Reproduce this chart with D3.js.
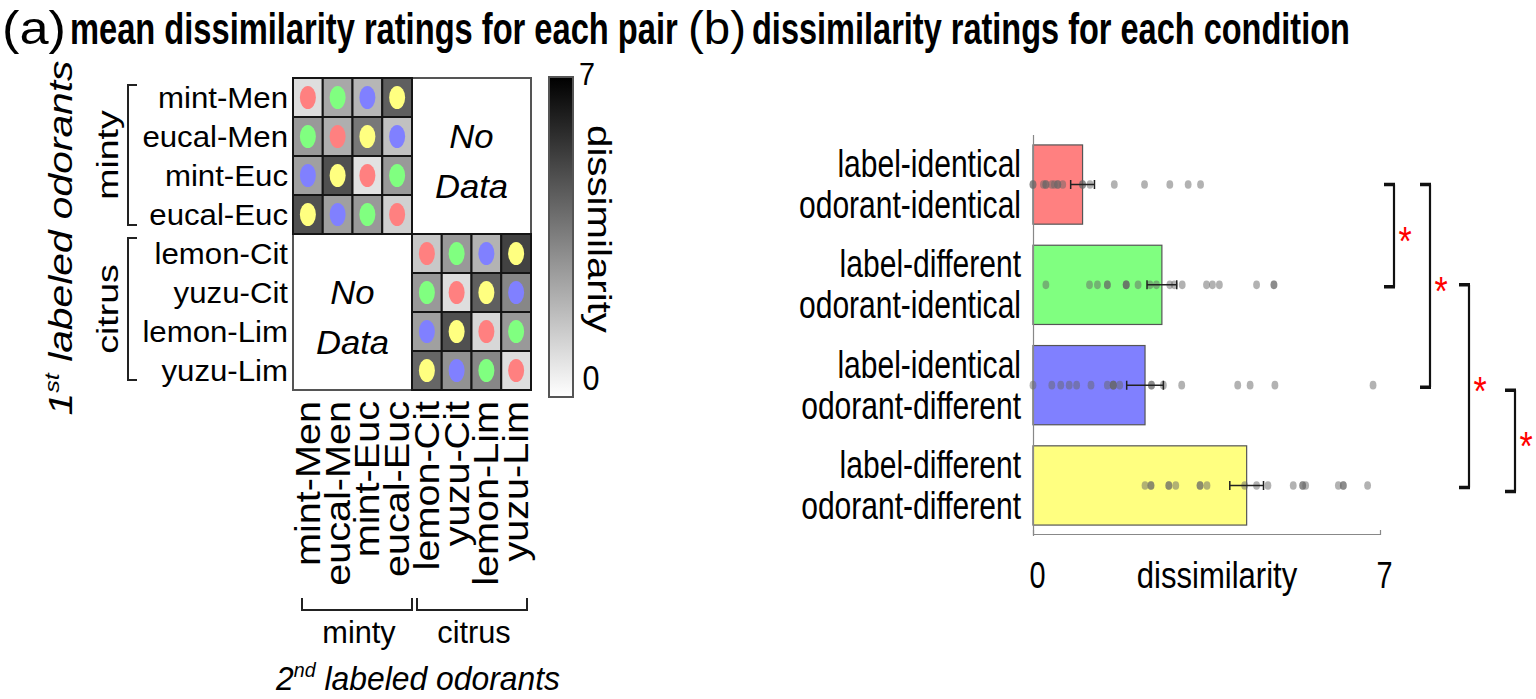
<!DOCTYPE html>
<html>
<head>
<meta charset="utf-8">
<script src="https://cdn.jsdelivr.net/npm/d3@7"></script>
<style>
  body { margin: 0; background: #fff; }
  text { font-family: "Liberation Sans", Arial, sans-serif; }
</style>
</head>
<body>
<svg id="fig"></svg>
<script>
// ---- data ----
var pairLabels = ["mint-Men", "eucal-Men", "mint-Euc", "eucal-Euc", "lemon-Cit", "yuzu-Cit", "lemon-Lim", "yuzu-Lim"];
var groupLabels = ["minty", "citrus"];

// mean dissimilarity (0-7) for each within-group cell
var mintyMatrix = [
  [0.9, 2.4, 2.0, 4.4],
  [2.8, 2.2, 3.7, 1.7],
  [2.6, 4.8, 0.8, 2.8],
  [4.8, 2.6, 2.8, 1.3]
];
var citrusMatrix = [
  [1.5, 2.8, 2.1, 5.2],
  [2.8, 0.9, 4.4, 3.3],
  [2.6, 4.8, 1.1, 2.8],
  [4.2, 3.0, 3.3, 0.9]
];
// condition index of the dot in each cell (same layout in both groups)
var cellCondition = [
  [0, 1, 2, 3],
  [1, 0, 3, 2],
  [2, 3, 0, 1],
  [3, 2, 1, 0]
];

var conditions = [
  ["label-identical", "odorant-identical"],
  ["label-different", "odorant-identical"],
  ["label-identical", "odorant-different"],
  ["label-different", "odorant-different"]
];
var condColors = ["#ff8080", "#80ff80", "#8080ff", "#ffff80"];
var meanRatings = [1.0, 2.6, 2.26, 4.31];
var seRatings = [0.24, 0.3, 0.37, 0.34];

var dotsIdentIdent = [0, 0, 0.21, 0.26, 0.26, 0.38, 0.43, 0.5, 0.5, 0.6, 1.0, 1.0, 1.15, 1.64, 2.25, 2.76, 3.13, 3.38];
var dotsDiffIdent = [0.26, 1.14, 1.3, 1.5, 1.5, 1.88, 1.88, 1.88, 2.12, 2.36, 2.49, 2.76, 2.85, 3.01, 3.5, 3.62, 3.76, 4.51, 4.86, 4.86];
var dotsIdentDiff = [0, 0.38, 0.56, 0.73, 0.88, 1.17, 1.5, 1.62, 1.62, 1.62, 1.75, 2.39, 2.39, 2.63, 3.0, 4.13, 4.38, 4.88, 6.86];
var dotsDiffDiff = [2.26, 2.38, 2.38, 2.74, 2.74, 2.88, 3.37, 3.37, 3.51, 4.27, 4.51, 4.74, 5.25, 5.44, 5.44, 5.5, 6.16, 6.26, 6.26, 6.75];
var significantPairs = [[0, 1], [0, 2], [1, 3], [2, 3]];
var scaleTicks = [0, 7];

// ---- setup ----
var svg = d3.select("#fig").attr("width", 1536).attr("height", 699);

// text helper: scale(sx,1) stretches along the writing direction
function txt(parent, str, x, y, o) {
  o = o || {};
  var rot = o.rot || 0;
  var t = parent.append("text")
    .attr("font-size", o.size || 30)
    .attr("text-anchor", o.anchor || "start")
    .attr("font-weight", o.weight || "normal")
    .attr("font-style", o.style || "normal")
    .attr("fill", o.fill || "#000")
    .text(str);
  var sx = o.sx || 1;
  if (o.width) sx = o.width / t.node().getComputedTextLength();
  t.attr("transform", "translate(" + x + "," + y + ") rotate(" + rot + ") scale(" + sx + ",1)");
  return t;
}

// ---- panel (a) ----
var gA = svg.append("g");
txt(gA, "(a)", 2, 44, {size: 46, width: 64});
txt(gA, "mean dissimilarity ratings for each pair", 70, 44, {size: 45, weight: "bold", width: 608});

var xCol = d3.scaleBand().domain(pairLabels).range([293, 531]);
var yRow = d3.scaleBand().domain(pairLabels).range([78, 390]);
var grey = d3.scaleLinear().domain([0, 7]).range(["#ffffff", "#000000"]);

// frame (white "No Data" areas)
gA.append("rect")
  .attr("x", xCol.range()[0]).attr("y", yRow.range()[0])
  .attr("width", xCol.range()[1] - xCol.range()[0])
  .attr("height", yRow.range()[1] - yRow.range()[0])
  .attr("fill", "#fff").attr("stroke", "#555").attr("stroke-width", 2);

var cells = [];
[mintyMatrix, citrusMatrix].forEach(function(m, gi) {
  m.forEach(function(row, r) {
    row.forEach(function(v, c) {
      cells.push({row: pairLabels[gi * 4 + r], col: pairLabels[gi * 4 + c], v: v, cond: cellCondition[r][c]});
    });
  });
});

gA.selectAll(".cell").data(cells).enter().append("rect")
  .attr("class", "cell")
  .attr("x", function(d) { return xCol(d.col); })
  .attr("y", function(d) { return yRow(d.row); })
  .attr("width", xCol.bandwidth())
  .attr("height", yRow.bandwidth())
  .attr("fill", function(d) { return grey(d.v); })
  .attr("stroke", "#151515").attr("stroke-width", 2);

gA.selectAll(".cdot").data(cells).enter().append("ellipse")
  .attr("class", "cdot")
  .attr("cx", function(d) { return xCol(d.col) + xCol.bandwidth() / 2; })
  .attr("cy", function(d) { return yRow(d.row) + yRow.bandwidth() / 2; })
  .attr("rx", 8).attr("ry", 11.5)
  .attr("fill", function(d) { return condColors[d.cond]; });

// No Data text
[[pairLabels[4], pairLabels[0]], [pairLabels[0], pairLabels[4]]].forEach(function(p) {
  var cx = xCol(p[0]) + xCol.bandwidth() * 2;
  var cy = yRow(p[1]) + yRow.bandwidth() * 2;
  txt(gA, "No", cx, cy - 8, {size: 33, style: "italic", anchor: "middle", sx: 1.05});
  txt(gA, "Data", cx, cy + 42, {size: 33, style: "italic", anchor: "middle", sx: 1.05});
});

// row labels
pairLabels.forEach(function(l) {
  txt(gA, l, 288, yRow(l) + yRow.bandwidth() / 2 + 10.5, {size: 30, anchor: "end", sx: 1.04});
});
// column labels
pairLabels.forEach(function(l) {
  txt(gA, l, xCol(l) + xCol.bandwidth() / 2 + 12, 401, {size: 36, anchor: "end", rot: -90, sx: 1.1});
});

// left group brackets + labels
groupLabels.forEach(function(g, gi) {
  var y0 = yRow(pairLabels[gi * 4]) + (gi ? 4 : 7);
  var y1 = yRow(pairLabels[gi * 4 + 3]) + yRow.bandwidth() - (gi ? 10 : 9);
  gA.append("path").attr("d", "M137," + y0 + "H128V" + y1 + "H137")
    .attr("fill", "none").attr("stroke", "#222").attr("stroke-width", 2);
  txt(gA, g, 118, (y0 + y1) / 2, {size: 30, anchor: "middle", rot: -90, sx: 1.25});

  var x0 = xCol(pairLabels[gi * 4]) + (gi ? 5 : 9);
  var x1 = xCol(pairLabels[gi * 4 + 3]) + xCol.bandwidth() - (gi ? 4 : 0);
  gA.append("path").attr("d", "M" + x0 + ",598V610H" + x1 + "V598")
    .attr("fill", "none").attr("stroke", "#222").attr("stroke-width", 2);
  txt(gA, g, (x0 + x1) / 2 + 2, 643, {size: 32, anchor: "middle", sx: 0.96});
});

// axis titles with superscripts
function supTitle(parent, num, sup, rest, x, y, rot, width) {
  var t = parent.append("text").attr("font-size", 34).attr("font-style", "italic")
    .attr("text-anchor", "middle");
  t.append("tspan").text(num);
  t.append("tspan").attr("font-size", 21).attr("dy", -13).text(sup);
  t.append("tspan").attr("dy", 13).text(" " + rest);
  var sx = width / t.node().getComputedTextLength();
  t.attr("transform", "translate(" + x + "," + y + ") rotate(" + rot + ") scale(" + sx + ",1)");
}
supTitle(gA, "1", "st", "labeled odorants", 72, 238, -90, 355);
supTitle(gA, "2", "nd", "labeled odorants", 418, 690, 0, 284);

// colour bar
var defs = svg.append("defs");
var grad = defs.append("linearGradient").attr("id", "cbar")
  .attr("x1", 0).attr("y1", 1).attr("x2", 0).attr("y2", 0);
d3.range(0, 7.01, 1).forEach(function(v) {
  grad.append("stop").attr("offset", v / 7).attr("stop-color", grey(v));
});
var cbY = d3.scaleLinear().domain(scaleTicks).range([397, 77]);
gA.append("rect").attr("x", 549).attr("y", cbY(7)).attr("width", 24)
  .attr("height", cbY(0) - cbY(7))
  .attr("fill", "url(#cbar)").attr("stroke", "#555").attr("stroke-width", 2);
txt(gA, "7", 587, cbY(7) + 8, {size: 32, anchor: "middle", sx: 0.9});
txt(gA, "0", 591, cbY(0) - 7, {size: 36, anchor: "middle", sx: 0.85});
txt(gA, "dissimilarity", 588, 229, {size: 33, anchor: "middle", rot: 90, sx: 1.22});

// ---- panel (b) ----
var gB = svg.append("g");
txt(gB, "(b)", 688, 44, {size: 46, width: 58});
txt(gB, "dissimilarity ratings for each condition", 752, 44, {size: 45, weight: "bold", width: 598});

var condIdx = d3.range(conditions.length);
var x = d3.scaleLinear().domain([0, 7]).range([1033, 1380]);
var y = d3.scaleBand().domain(condIdx).range([134.4, 535.6]).paddingInner(0.21).paddingOuter(0.105);
var dotSets = [dotsIdentIdent, dotsDiffIdent, dotsIdentDiff, dotsDiffDiff];

gB.selectAll(".bar").data(condIdx).enter().append("rect")
  .attr("class", "bar")
  .attr("x", x(0))
  .attr("y", function(i) { return y(i); })
  .attr("width", function(i) { return x(meanRatings[i]) - x(0); })
  .attr("height", y.bandwidth())
  .attr("fill", function(i) { return condColors[i]; })
  .attr("stroke", "#555").attr("stroke-width", 1.2);

// axes
gB.append("g").attr("transform", "translate(" + x(0) + ",0)")
  .call(d3.axisLeft(y).tickSize(0).tickSizeOuter(0).tickFormat(""))
  .call(function(g) { g.select(".domain").attr("stroke", "#888").attr("stroke-width", 1.2); });

gB.append("g").attr("transform", "translate(0,534)")
  .call(d3.axisBottom(x).tickValues(scaleTicks).tickFormat(d3.format("d"))
    .tickSize(0).tickSizeOuter(-4).tickPadding(28))
  .call(function(g) {
    g.select(".domain").attr("stroke", "#888").attr("stroke-width", 1.2);
    g.selectAll(".tick text").attr("font-size", 37).attr("font-family", "Liberation Sans, Arial, sans-serif")
      .attr("fill", "#000").attr("transform", "translate(4,0) scale(0.78,1)");
  });
txt(gB, "dissimilarity", 1217, 588, {size: 37, anchor: "middle", sx: 0.84});

// category labels
conditions.forEach(function(c, i) {
  var cy = y(i) + y.bandwidth() / 2;
  txt(gB, c[0], 1021, cy - 7.5, {size: 39, anchor: "end", sx: 0.77});
  txt(gB, c[1], 1021, cy + 33.5, {size: 39, anchor: "end", sx: 0.77});
});

// individual ratings
dotSets.forEach(function(set, i) {
  var cy = y(i) + y.bandwidth() / 2;
  gB.selectAll(".pt" + i).data(set).enter().append("ellipse")
    .attr("class", "pt" + i)
    .attr("cx", function(d) { return x(d); })
    .attr("cy", cy)
    .attr("rx", 3.4).attr("ry", 4.3)
    .attr("fill", "#666").attr("fill-opacity", 0.5);
});

// error bars
condIdx.forEach(function(i) {
  var cy = y(i) + y.bandwidth() / 2;
  var lo = x(meanRatings[i] - seRatings[i]), hi = x(meanRatings[i] + seRatings[i]);
  gB.append("path")
    .attr("d", "M" + lo + "," + cy + "H" + hi + "M" + lo + "," + (cy - 4.5) + "V" + (cy + 4.5) +
      "M" + hi + "," + (cy - 4.5) + "V" + (cy + 4.5))
    .attr("fill", "none").attr("stroke", "#222").attr("stroke-width", 1.5);
});

// significance brackets
var bracketOffsets = [14, 50, 89, 135];
significantPairs.forEach(function(p, k) {
  var bx = x.range()[1] + bracketOffsets[k];
  var y0 = y(p[0]) + y.bandwidth() / 2 + (k === 3 ? 5 : 0);
  var y1 = y(p[1]) + y.bandwidth() / 2 + (k === 3 ? 6 : 2);
  gB.append("path").attr("d", "M" + bx + "," + y0 + "V" + y1)
    .attr("stroke", "#111").attr("stroke-width", 2.2);
  gB.append("path").attr("d", "M" + (bx - 10) + "," + y0 + "H" + (bx + 1) + "M" + (bx - 10) + "," + y1 + "H" + (bx + 1))
    .attr("stroke", "#111").attr("stroke-width", 3.5);
  txt(gB, "*", bx + 11, (y0 + y1) / 2 + 19, {size: 40, anchor: "middle", fill: "#ff0000", sx: 0.85});
});
</script>
</body>
</html>
